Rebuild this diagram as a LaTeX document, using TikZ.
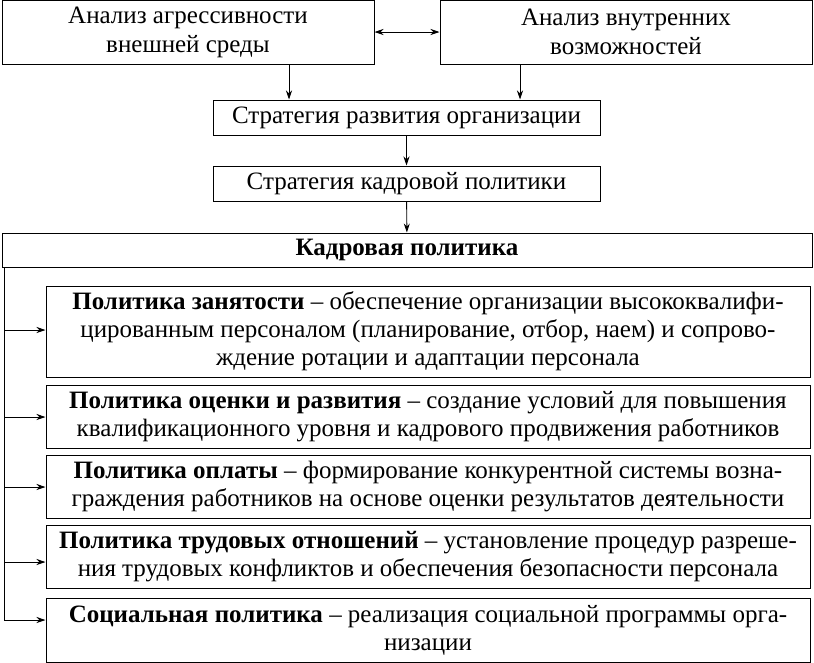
\documentclass[tikz,border=0pt]{standalone}
\usepackage{fontspec}
\setmainfont{Liberation Serif}
\usetikzlibrary{arrows.meta}
\begin{document}
\begin{tikzpicture}[x=1pt,y=-1pt,
  bx/.style={draw,line width=1pt,inner sep=0pt,align=center},
  arr/.style={-{Stealth[length=9pt,width=6pt]},line width=0.9pt},
  tx/.style={font=\fontsize{25}{29}\selectfont},
  pt/.style={font=\fontsize{25}{28}\selectfont}]
\useasboundingbox (0,0) rectangle (814,662);
\node[bx,tx,minimum width=372,minimum height=64] (a) at (188,32) {Анализ агрессивности\\внешней среды};
\node[bx,tx,minimum width=372,minimum height=64] (b) at (626,32) {Анализ внутренних\\возможностей};
\node[bx,tx,minimum width=387,minimum height=35] (c) at (406.5,117.5) {Стратегия развития организации};
\node[bx,tx,minimum width=387,minimum height=35] (d) at (406.5,183.5) {Стратегия кадровой политики};
\node[bx,tx,minimum width=810,minimum height=34] (k) at (407,250) {\textbf{Кадровая политика}};
\draw[{Stealth[length=9pt,width=6pt]}-{Stealth[length=9pt,width=6pt]},line width=0.9pt] (a.east) -- (b.west);
\coordinate (ta) at (289,64);
\coordinate (tb) at (520,64);
\draw[arr] (ta) -- (ta |- c.north);
\draw[arr] (tb) -- (tb |- c.north);
\draw[arr] (c) -- (d);
\draw[arr] (d) -- (k);
\node[bx,pt,minimum width=764,minimum height=91] (p1) at (428,331.5) {\textbf{Политика занятости} – обеспечение организации высококвалифи-\\цированным персоналом (планирование, отбор, наем) и сопрово-\\ждение ротации и адаптации персонала};
\node[bx,pt,minimum width=764,minimum height=63] (p2) at (428,416.5) {\textbf{Политика оценки и развития} – создание условий для повышения\\квалификационного уровня и кадрового продвижения работников};
\node[bx,pt,minimum width=764,minimum height=63] (p3) at (428,486.5) {\textbf{Политика оплаты} – формирование конкурентной системы возна-\\граждения работников на основе оценки результатов деятельности};
\node[bx,pt,minimum width=764,minimum height=63] (p4) at (428,556.5) {\textbf{Политика трудовых отношений} – установление процедур разреше-\\ния трудовых конфликтов и обеспечения безопасности персонала};
\node[bx,pt,minimum width=764,minimum height=64] (p5) at (428,630) {\textbf{Социальная политика} – реализация социальной программы орга-\\низации};
\coordinate (l0) at (4,267);
\coordinate (l1) at (4,330);
\coordinate (l2) at (4,417);
\coordinate (l3) at (4,487);
\coordinate (l4) at (4,562);
\coordinate (l5) at (4,620);
\draw[line width=0.9pt] (l0) -- (l5);
\draw[arr] (l1) -- (l1 -| p1.west);
\draw[arr] (l2) -- (l2 -| p2.west);
\draw[arr] (l3) -- (l3 -| p3.west);
\draw[arr] (l4) -- (l4 -| p4.west);
\draw[arr] (l5) -- (l5 -| p5.west);
\end{tikzpicture}
\end{document}
